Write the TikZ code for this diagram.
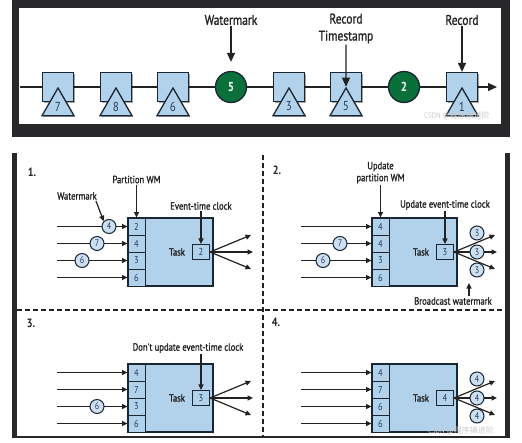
\documentclass[tikz,border=0pt]{standalone}
\usepackage{fontspec}
\setmainfont{PT Sans}[FakeStretch=0.85]
\newfontfamily\labelfont{PT Sans}[FakeStretch=0.82, FakeBold=1.2]
\newfontfamily\cjk{Noto Sans CJK SC}
\usetikzlibrary{positioning, arrows.meta, shapes.geometric, shadows}

\definecolor{panel}{RGB}{40,40,42}
\definecolor{boxblue}{RGB}{178,210,236}
\definecolor{lightblue}{RGB}{204,224,242}
\definecolor{navy}{RGB}{26,38,52}
\definecolor{digit}{RGB}{36,62,96}
\definecolor{wmgreen}{RGB}{10,112,58}
\definecolor{ink}{RGB}{34,34,34}

\begin{document}
\begin{tikzpicture}[
    x=1pt, y=-1pt,
    >={Triangle[length=5.5pt,width=5pt]},
    shade/.style={drop shadow={shadow xshift=1.2pt, shadow yshift=-1.2pt, opacity=0.35, fill=black}},
    rec/.style={rectangle, draw=navy, line width=1.3pt, fill=boxblue, minimum width=31pt, minimum height=29pt, shade},
    ts/.style={regular polygon, regular polygon sides=3, draw=navy, line width=1.3pt, fill=boxblue, minimum size=37pt, inner sep=0pt, text=digit, font=\fontsize{13}{13}\selectfont, shade},
    wm/.style={circle, draw=navy, line width=1.3pt, fill=wmgreen, minimum size=31pt, inner sep=0pt, text=white, font=\bfseries\fontsize{13}{13}\selectfont},
    lbl/.style={text=ink, inner sep=1pt, align=center, font=\labelfont\fontsize{10.5}{12}\selectfont},
    big/.style={lbl, font=\labelfont\fontsize{14}{17}\selectfont},
    num/.style={text=ink, inner sep=0pt, font=\bfseries\fontsize{12}{12}\selectfont},
    task/.style={rectangle, draw=navy, line width=1.2pt, fill=boxblue, minimum width=85pt, minimum height=68pt},
    part/.style={rectangle, draw=navy, line width=1pt, fill=boxblue, minimum size=17pt, inner sep=0pt, text=digit, font=\fontsize{10}{10}\selectfont},
    clk/.style={part, line width=1.1pt, minimum width=17pt, minimum height=15pt},
    dot/.style={circle, draw=navy, line width=1pt, fill=lightblue, minimum size=14pt, inner sep=0pt, text=digit, font=\fontsize{9.5}{10}\selectfont},
    sep/.style={draw=ink, line width=1.1pt, dash pattern=on 5pt off 3pt},
    flow/.style={->, draw=ink, line width=1.2pt},
    csdn/.style={text=gray!40, inner sep=0pt, font=\fontsize{8}{8}\selectfont}
  ]
  \useasboundingbox (0,0) rectangle (522,442);

  % top panel: stream of records and watermarks
  \fill[panel] (12,0) rectangle (510,137);
  \fill[white] (19,8) rectangle (501,124);

  \coordinate (s0) at (20,87);
  \coordinate (s1) at (497,87);
  \draw[flow, >={Triangle[length=9pt,width=8pt]}] (s0) -- (s1);

  \foreach \x/\t [count=\i] in {58/7, 116/8, 173/6, 289/3, 346/5, 462/1} {
    \node[rec] (r\i) at (\x,87) {};
    \node[ts]  (t\i) at (\x,106.5) {\t};
  }
  \node[wm] (w1) at (231,87) {5};
  \node[wm] (w2) at (404,87) {2};

  \node[big] (lw) at (231,20)   {Watermark};
  \node[big] (lt) at (346,28.5) {Record\\Timestamp};
  \node[big] (lr) at (462,20)   {Record};
  \draw[flow, >={Triangle[length=9pt,width=8pt]}, shorten >=9pt] (lw) -- (w1.north);
  \draw[flow, >={Triangle[length=9pt,width=8pt]}] (lt) -- (t5.north);
  \draw[flow, >={Triangle[length=9pt,width=8pt]}] (lr) -- (r6.north);

  \node[csdn] (m1) at (457,116) {CSDN @{\cjk 程序猿进阶}};

  % bottom panel: four task states
  \fill[panel] (12,153) rectangle (510,438);
  \fill[white] (17,153) rectangle (505,436);

  \coordinate (v0) at (263,155);
  \coordinate (v1) at (263,437);
  \coordinate (h0) at (17,310);
  \coordinate (h1) at (505,310);
  \draw[sep] (v0) -- (v1);
  \draw[sep] (h0) -- (h1);

  \node[num] (n1) at (32,172) {1.};
  \node[num] (n2) at (277,170) {2.};
  \node[num] (n3) at (31,323) {3.};
  \node[num] (n4) at (276,322) {4.};

  \foreach \q/\bx/\by/\c/\cells in {1/128/218/2/{2,4,3,6}, 2/372/218/3/{4,4,3,6},
                                    3/128/364/3/{4,7,3,6}, 4/372/364/4/{4,7,6,6}} {
    \begin{scope}[shift={(\bx,\by)}]
      \node[task] (T\q) at (42.5,34) {};
      \node[lbl]  (k\q) at (49,34) {Task};
      \node[clk]  (C\q) at (73,34) {\c};
      \foreach \v [count=\i] in \cells {
        \node[part] (P\q-\i) at (8.5,{8.5+17*(\i-1)}) {\v};
        \coordinate (I\q-\i) at (-71,{8.5+17*(\i-1)});
        \draw[flow] (I\q-\i) -- (P\q-\i);
      }
      \coordinate (O\q-1) at (123,17);
      \coordinate (O\q-2) at (125,34);
      \coordinate (O\q-3) at (123,51);
      \foreach \j in {1,2,3}
        \draw[flow] (C\q.east) -- (O\q-\j);
    \end{scope}
  }

  % watermarks on the input partitions
  \node[dot] (a1) at (109,226.5) {4};
  \node[dot] (a2) at (97,243.5)  {7};
  \node[dot] (a3) at (82,260.5)  {6};
  \node[dot] (b2) at (340,243.5) {7};
  \node[dot] (b3) at (323,260.5) {6};
  \node[dot] (c3) at (97,406.5)  {6};

  % broadcast watermarks
  \foreach \y [count=\j] in {233,252,270} {
    \node[dot] (K2-\j) at (477,\y) {3};
    \node[dot] (K4-\j) at (477,{\y+146}) {4};
  }

  % labels 1.
  \node[lbl] (lw1) at (77,196) {Watermark};
  \draw[flow] ([xshift=-2pt]lw1.south east) -- (a1.north west);
  \node[lbl, above=33pt of P1-1] (lp1) {Partition WM};
  \draw[flow] (lp1) -- (P1-1);
  \node[lbl, above=33pt of C1] (le1) {Event-time clock};
  \draw[flow] (le1) -- (C1);

  % labels 2.
  \node[lbl, above=33pt of P2-1] (lp2) {Update\\partition WM};
  \draw[flow] (lp2) -- (P2-1);
  \node[lbl, above=33pt of C2] (le2) {Update event-time clock};
  \draw[flow] (le2) -- (C2);
  \node[lbl] (lb2) at (453,301) {Broadcast watermark};
  \draw[flow] ([xshift=16pt]lb2.north) -- ++(0,-13);

  % labels 3.
  \node[lbl] (ld3) at (188,348) {Don't update event-time clock};
  \draw[flow] (ld3.south -| C3) -- (C3);

  \node[csdn] (m2) at (461,431) {CSDN @{\cjk 程序猿进阶}};
\end{tikzpicture}
\end{document}
